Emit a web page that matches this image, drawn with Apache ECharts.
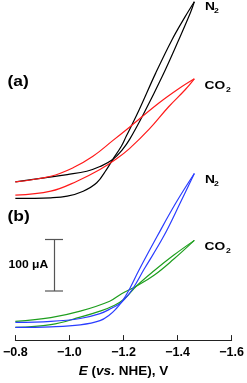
<!DOCTYPE html>
<html>
<head>
<meta charset="utf-8">
<script src="https://cdn.jsdelivr.net/npm/echarts@6/dist/echarts.min.js"></script>
<style>html,body{margin:0;padding:0;background:#fff}#c{width:247px;height:383px}</style>
</head>
<body>
<div id="c"></div>
<script>
// Potential E (V vs. NHE) and current (µA, panels stacked with offsets)
const xTicks = [-0.8, -1.0, -1.2, -1.4, -1.6];

// (a) N2 — black
const aN2Forward = [[-0.800,273.1],[-0.931,274.4],[-0.992,277.5],[-1.051,287.1],[-1.101,303.3],[-1.137,328.8],[-1.160,348.1],[-1.192,373.7],[-1.210,392.9],[-1.258,444.2],[-1.319,514.8],[-1.379,578.8],[-1.428,623.7],[-1.462,652.5]];
const aN2Return = [[-1.462,652.5],[-1.447,630.8],[-1.404,578.8],[-1.343,508.3],[-1.276,437.9],[-1.222,386.5],[-1.196,367.3],[-1.160,348.1],[-1.113,334.6],[-1.064,325.6],[-0.992,319.2],[-0.907,312.9],[-0.800,305.2]];
// (a) CO2 — red
const aCO2Forward = [[-0.800,279.4],[-0.931,287.1],[-1.028,306.3],[-1.113,328.8],[-1.173,349.0],[-1.222,369.2],[-1.295,406.7],[-1.367,450.0],[-1.428,482.7],[-1.462,503.8]];
const aCO2Return = [[-1.462,503.8],[-1.404,484.6],[-1.331,457.1],[-1.222,410.6],[-1.160,384.6],[-1.087,354.4],[-1.015,332.7],[-0.931,316.0],[-0.800,305.2]];
// (b) N2 — blue
const bN2Forward = [[-0.800,24.4],[-0.931,25.6],[-1.040,29.4],[-1.113,37.5],[-1.149,49.0],[-1.171,59.6],[-1.192,72.5],[-1.222,98.1],[-1.256,133.7],[-1.325,200.6],[-1.394,264.8],[-1.462,321.2]];
const bN2Return = [[-1.462,321.2],[-1.410,264.8],[-1.349,200.6],[-1.276,136.5],[-1.233,98.1],[-1.192,72.5],[-1.156,61.5],[-1.113,51.0],[-1.040,41.7],[-0.931,36.0],[-0.800,34.0]];
// (b) CO2 — green
const bCO2Forward = [[-0.800,24.4],[-0.931,29.8],[-1.040,44.2],[-1.113,55.8],[-1.167,67.3],[-1.204,79.8],[-1.247,103.8],[-1.313,133.7],[-1.385,163.5],[-1.462,192.3]];
const bCO2Return = [[-1.462,192.3],[-1.385,155.8],[-1.313,125.0],[-1.247,103.8],[-1.193,89.4],[-1.149,75.0],[-1.040,55.8],[-0.931,43.3],[-0.800,36.0]];

const chart = echarts.init(document.getElementById('c'), null, {renderer: 'canvas'});
function ln(data, color) {
  return {type: 'line', data: data, showSymbol: false, symbol: 'none', smooth: 0.4,
    lineStyle: {color: color, width: 1.2}, silent: true, z: 3};
}
const F = 'Liberation Sans, Arial, Helvetica, sans-serif';
function txt(x, y, s, size, sx) {
  return {type: 'text', x: x, y: y, scaleX: sx || 1.25,
    style: {text: s, fill: '#000', font: 'bold ' + size + 'px ' + F, textVerticalAlign: 'middle'}};
}
chart.setOption({
  animation: false,
  grid: {left: 14, right: 12, top: 0, bottom: 42, containLabel: false},
  xAxis: {
    type: 'value', inverse: true, min: -1.6, max: -0.8, interval: 0.2,
    axisLine: {show: true, lineStyle: {color: '#222', width: 1}},
    axisTick: {show: true, inside: true, length: 5, lineStyle: {color: '#222', width: 1}},
    splitLine: {show: false},
    axisLabel: {margin: 6, color: '#000', fontWeight: 'bold', fontSize: 12.5, fontFamily: F,
      formatter: function (v) { return v.toFixed(1).replace('-', '\u2212'); }},
    name: '{i|E} ({i|vs.} NHE), V', nameLocation: 'middle', nameGap: 23,
    nameTextStyle: {color: '#000', fontWeight: 'bold', fontSize: 13.5, fontFamily: F,
      rich: {i: {fontStyle: 'italic', fontWeight: 'bold', fontSize: 13.5, fontFamily: F, color: '#000'}}}
  },
  yAxis: {type: 'value', min: 0, max: 655.8, show: false},
  series: [
    ln(aN2Forward, '#000'), ln(aN2Return, '#000'),
    ln(aCO2Forward, '#ff1a1a'), ln(aCO2Return, '#ff1a1a'),
    ln(bCO2Forward, '#1e9e1e'), ln(bCO2Return, '#1e9e1e'),
    ln(bN2Forward, '#2a3dff'), ln(bN2Return, '#2a3dff')
  ],
  graphic: [
    txt(205, 6.5, 'N', 11), txt(214, 10.5, '2', 7.5, 1.15),
    txt(204.5, 86, 'CO', 11), txt(226, 90, '2', 7.5, 1.15),
    txt(205, 180, 'N', 11), txt(214, 184, '2', 7.5, 1.15),
    txt(204.5, 246.5, 'CO', 11), txt(226, 250.5, '2', 7.5, 1.15),
    txt(7.5, 81.5, '(a)', 14.5, 1.2), txt(7.5, 217, '(b)', 14.5, 1.2),
    txt(8.5, 265, '100 \u03bcA', 11, 1.1),
    {type: 'line', shape: {x1: 54.5, y1: 239.5, x2: 54.5, y2: 291}, style: {stroke: '#555', lineWidth: 1.2}},
    {type: 'line', shape: {x1: 45, y1: 239.5, x2: 63, y2: 239.5}, style: {stroke: '#555', lineWidth: 1.2}},
    {type: 'line', shape: {x1: 45, y1: 291, x2: 63, y2: 291}, style: {stroke: '#555', lineWidth: 1.2}}
  ]
});
</script>
</body>
</html>
